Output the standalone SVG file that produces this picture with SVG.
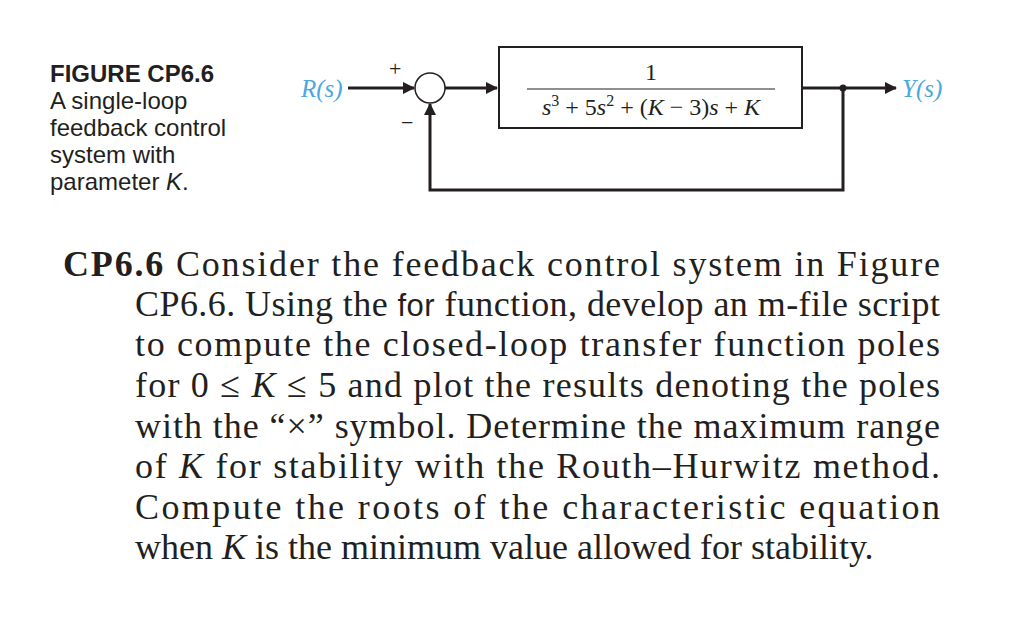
<svg xmlns="http://www.w3.org/2000/svg" width="1024" height="629" viewBox="0 0 1024 629">
<defs>
<style>
.cap{font-family:"Liberation Sans",Arial,sans-serif;font-size:24px;fill:#231f20}
.m{font-family:"Liberation Serif","Times New Roman",serif;fill:#231f20}
.sig{font-family:"Liberation Serif","Times New Roman",serif;font-style:italic;font-size:25px;fill:#4aa8dd}
.body{font-family:"Liberation Serif","Times New Roman",serif;font-size:36px;fill:#231f20}
.ln{stroke:#231f20;stroke-width:3;fill:none}
</style>
<marker id="ah" markerWidth="12" markerHeight="12" refX="11" refY="6" orient="auto" markerUnits="userSpaceOnUse" viewBox="0 0 12 12"><path d="M0,0 L12,6 L0,12 z" fill="#231f20"/></marker>
</defs>
<rect width="1024" height="629" fill="#fff"/>
<g id="caption">
<text class="cap" x="50" y="82" font-weight="bold" font-size="25">FIGURE CP6.6</text>
<text class="cap" x="50" y="109">A single-loop</text>
<text class="cap" x="50" y="136">feedback control</text>
<text class="cap" x="50" y="163">system with</text>
<text class="cap" x="50" y="190">parameter <tspan font-style="italic">K</tspan>.</text>
</g>
<g id="connectors">
<line class="ln" x1="348" y1="88" x2="414" y2="88" marker-end="url(#ah)"/>
<line class="ln" x1="445" y1="88" x2="497" y2="88" marker-end="url(#ah)"/>
<line class="ln" x1="802" y1="88" x2="896" y2="88" marker-end="url(#ah)"/>
<polyline class="ln" points="843,88 843,190 430,190 430,104" marker-end="url(#ah)"/>
<circle cx="843" cy="88" r="3.5" fill="#231f20"/>
</g>
<g id="R"><text class="sig" x="301" y="97">R(s)</text></g>
<g id="sum">
<circle cx="430" cy="88" r="15" fill="#fff" stroke="#231f20" stroke-width="1.5"/>
<text class="m" x="389" y="76" font-size="22">+</text>
<text class="m" x="401" y="130" font-size="22">−</text>
</g>
<g id="plant">
<rect x="499" y="47" width="303" height="81" fill="#fff" stroke="#231f20" stroke-width="2"/>
<text class="m" x="651" y="80" font-size="24" text-anchor="middle">1</text>
<line x1="527" y1="89" x2="775" y2="89" stroke="#231f20" stroke-width="1.2"/>
<text class="m" x="651" y="115" font-size="24" text-anchor="middle"><tspan font-style="italic">s</tspan><tspan font-size="16" dy="-9">3</tspan><tspan dy="9"> + 5</tspan><tspan font-style="italic">s</tspan><tspan font-size="16" dy="-9">2</tspan><tspan dy="9"> + (</tspan><tspan font-style="italic">K</tspan> − 3)<tspan font-style="italic">s</tspan> + <tspan font-style="italic">K</tspan></text>
</g>
<g id="Y"><text class="sig" x="902" y="97">Y(s)</text></g>
<g id="problem">
<text class="body" x="63" y="276" textLength="877" lengthAdjust="spacing"><tspan font-weight="bold">CP6.6</tspan>  Consider the feedback control system in Figure</text>
<text class="body" x="135" y="316" textLength="805" lengthAdjust="spacing">CP6.6. Using the <tspan font-family="Liberation Sans,Arial,sans-serif" font-size="31">for</tspan> function, develop an m-file script</text>
<text class="body" x="135" y="356" textLength="805" lengthAdjust="spacing">to compute the closed-loop transfer function poles</text>
<text class="body" x="135" y="397" textLength="805" lengthAdjust="spacing">for 0 ≤ <tspan font-style="italic">K</tspan> ≤ 5 and plot the results denoting the poles</text>
<text class="body" x="135" y="438" textLength="805" lengthAdjust="spacing">with the “×” symbol. Determine the maximum range</text>
<text class="body" x="135" y="478" textLength="805" lengthAdjust="spacing">of <tspan font-style="italic">K</tspan> for stability with the Routh–Hurwitz method.</text>
<text class="body" x="135" y="519" textLength="805" lengthAdjust="spacing">Compute the roots of the characteristic equation</text>
<text class="body" x="135" y="559">when <tspan font-style="italic">K</tspan> is the minimum value allowed for stability.</text>
</g>
</svg>
